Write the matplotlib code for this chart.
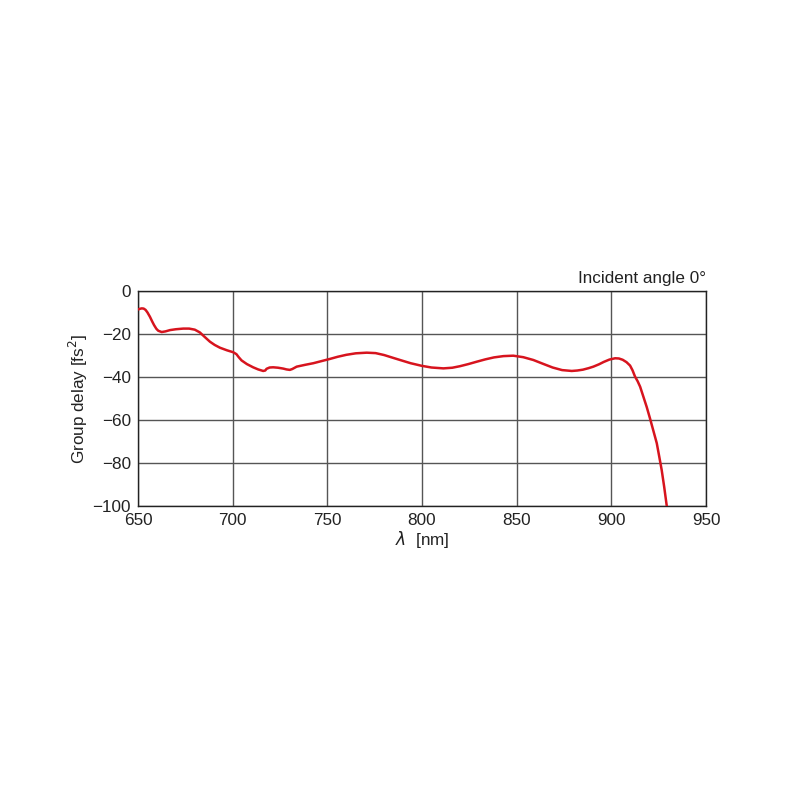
import matplotlib.pyplot as plt

plt.rcParams['font.family'] = ['Liberation Sans', 'DejaVu Sans']

# wavelength [nm] and group delay [fs^2]
wavelength = [650, 651, 652, 653, 654, 655, 656.3, 657.5, 658.5, 659.7, 660.7,
              662.5, 664.5, 666.9, 670, 673.9, 677, 680, 682.7, 685, 688, 690.5,
              693.3, 697, 700.3, 702, 703.2, 704.7, 707.5, 710.8, 713.5, 716.1,
              717.2, 717.9, 719.5, 721.4, 724, 726.7, 728.5, 730.2, 731.5, 733.8,
              738, 742.6, 747, 751.4, 755.5, 760, 765, 770.8, 775.5, 780, 784,
              788.4, 794, 799.8, 805, 811.3, 816, 820, 824.5, 828.9, 833.5, 838,
              843, 848.2, 853.5, 858.8, 864, 869, 874, 879.1, 882, 885, 888,
              890.5, 893.5, 896, 899, 902, 904, 906, 908, 909.9, 911.2, 912.5,
              913.9, 915.2, 916.9, 918.7, 920.4, 922.2, 924, 925.3, 926.6, 927.9,
              929.2, 930]
group_delay = [-8.6, -8.3, -8.1, -8.2, -8.8, -10.0, -12.0, -14.2, -15.9, -17.6,
               -18.5, -19.1, -18.8, -18.2, -17.8, -17.5, -17.5, -18.0, -19.3, -21.2,
               -23.6, -25.1, -26.4, -27.6, -28.5, -29.4, -30.8, -32.3, -34.0, -35.5,
               -36.5, -37.2, -37.0, -36.2, -35.6, -35.5, -35.7, -36.1, -36.5, -36.7,
               -36.3, -35.2, -34.4, -33.6, -32.6, -31.6, -30.6, -29.7, -29.0, -28.7,
               -28.9, -29.8, -30.9, -32.1, -33.6, -34.8, -35.6, -36.0, -35.7, -35.0,
               -34.0, -32.9, -31.8, -30.9, -30.3, -30.1, -30.8, -32.1, -33.9, -35.6,
               -36.8, -37.2, -37.0, -36.6, -35.9, -35.2, -34.1, -33.0, -31.9, -31.3,
               -31.4, -32.0, -33.1, -34.7, -36.9, -39.8, -42.0, -44.5, -49.1, -54.0,
               -59.2, -65.0, -70.8, -77.0, -83.3, -91.0, -99.5, -104]

x_ticks = [650, 700, 750, 800, 850, 900, 950]
y_ticks = [0, -20, -40, -60, -80, -100]

fig = plt.figure(figsize=(8, 8), dpi=100)
ax = fig.add_axes([0.1725, 0.3675, 0.71, 0.2688])

ax.plot(wavelength, group_delay, color='#d7141e', lw=1.8, zorder=3,
        solid_joinstyle='round')

ax.set_xlim(650, 950)
ax.set_ylim(-100, 0)
ax.set_xticks(x_ticks)
ax.set_yticks(y_ticks)
ax.set_yticklabels(['0', '\u221220', '\u221240', '\u221260', '\u221280', '\u2212100'])
ax.grid(True, color='#555555', lw=1.0)
ax.tick_params(length=0, labelsize=12.3, pad=5, colors='#222222')
for s in ax.spines.values():
    s.set_color('#222222')
    s.set_linewidth(1.0)

ax.set_xlabel('$\\lambda$  [nm]', fontsize=12.3, labelpad=1, color='#222222')
ax.set_ylabel('Group delay [fs$^2$]', fontsize=12.3, labelpad=2, color='#222222')
ax.set_title('Incident angle 0\u00b0', loc='right', fontsize=12.3, pad=6, color='#222222')

fig.savefig('out.png', dpi=100)
